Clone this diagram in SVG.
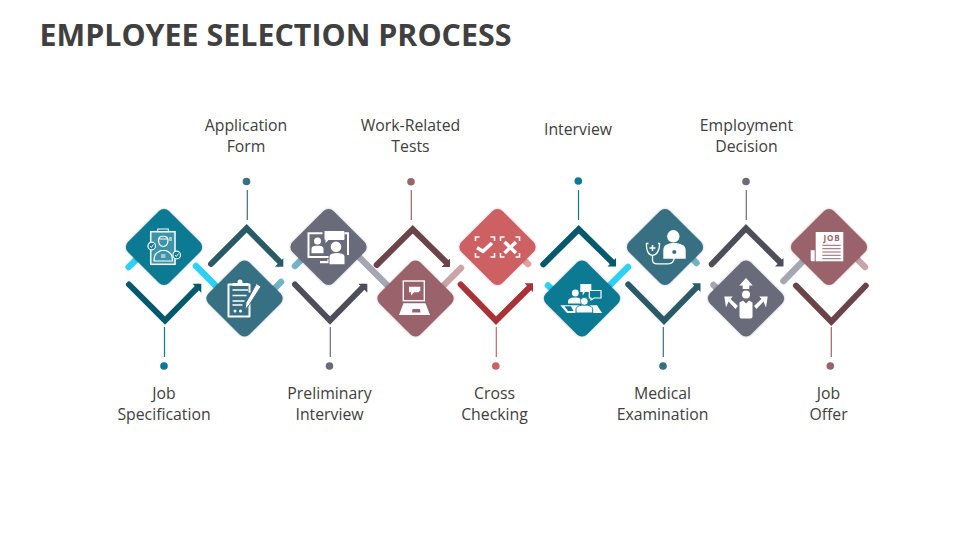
<svg xmlns="http://www.w3.org/2000/svg" width="960" height="540" viewBox="0 0 960 540">
<defs>
<filter id="sh" x="-20%" y="-20%" width="140%" height="140%"><feDropShadow dx="0" dy="0" stdDeviation="1.200" flood-color="#000" flood-opacity="0.3"/></filter>
<rect id="dia" x="-29" y="-29" width="58" height="58" rx="7" transform="rotate(45)"/>
</defs>
<style>
text{font-family:"Open Sans","Liberation Sans",sans-serif;font-size:15.800px;fill:#404040;text-anchor:middle}
.title{font-size:30.400px;font-weight:700;text-anchor:start}
.ch{fill:none;stroke-width:6;stroke-linecap:round;stroke-linejoin:miter}
.bar{fill:none;stroke-width:6.500;stroke-linecap:round}
.ln{stroke-width:1.200;fill:none}
.ic{fill:#fff;stroke:none}
.ol{fill:none;stroke:#fff;stroke-width:1.200}
.ol2{fill:none;stroke:#fff;stroke-width:2}
</style>
<rect width="960" height="540" fill="#fff"/>
<text class="title" x="39.500" y="46">EMPLOYEE SELECTION PROCESS</text>
<g id="connectors">
<g class="bar">
<path d="M128.700 267L142 254" stroke="#2dd0f7"/>
<path d="M196 266L222 292" stroke="#2dd0f7"/>
<path d="M281 282L268 295" stroke="#74b3c7"/>
<path d="M295 266L308 253" stroke="#74b3c7"/>
<path d="M355 253L395 293" stroke="#a5a7b2"/>
<path d="M461 268L440 289" stroke="#c9a5ab"/>
<path d="M528 264L516 252" stroke="#e39ea0"/>
<path d="M548 285.500L562 299" stroke="#2dd0f7"/>
<path d="M628 267L606 289" stroke="#2dd0f7"/>
<path d="M696.500 263L684 250" stroke="#74b3c7"/>
<path d="M713.500 285L727 298" stroke="#a5a7b2"/>
<path d="M783.500 281L810 254" stroke="#a5a7b2"/>
<path d="M865 267L850 252" stroke="#c9a5ab"/>
</g>
<g class="ch">
<path d="M129 284.500L165 320.500L198 287" stroke="#04596c"/>
<path d="M211 264L246.700 228.300L280 262" stroke="#2a5a68"/>
<path d="M295 284.500L330 320.500L363 287" stroke="#4e4e5a"/>
<path d="M376.700 265L412.700 229.300L447 263" stroke="#6b4449"/>
<path d="M460.700 284.500L496 320.700L530 287" stroke="#a83236"/>
<path d="M543.300 264.300L578.700 229.300L613 263" stroke="#04596c"/>
<path d="M628.300 284.500L664 320.700L697 287" stroke="#2a5a68"/>
<path d="M711.700 264.300L746 228.300L780 262" stroke="#4e4e5a"/>
<path d="M796 285.700L831.300 321.700L865.700 285.700" stroke="#6b4449"/>
</g>
<polygon points="201.300,283.700 192.500,283.700 201.300,292.700" fill="#04596c"/>
<polygon points="283.300,266.700 274.800,266.700 283.300,258.200" fill="#2a5a68"/>
<polygon points="367.300,283.700 358.500,283.700 367.300,292.700" fill="#4e4e5a"/>
<polygon points="450,267 441.500,267 450,258.500" fill="#6b4449"/>
<polygon points="533,283.300 524.500,283.300 533,292" fill="#a83236"/>
<polygon points="616,266.500 607.500,266.500 616,258" fill="#04596c"/>
<polygon points="700.500,283.300 692,283.300 700.500,292" fill="#2a5a68"/>
<polygon points="783.500,266.500 775,266.500 783.500,258" fill="#4e4e5a"/>
<g class="ln">
<path d="M164.500 327V357" stroke="#087a94"/>
<path d="M247.300 190V220" stroke="#386f83"/>
<path d="M330.300 327V357" stroke="#696b7a"/>
<path d="M411.300 190V220" stroke="#9a646c"/>
<path d="M496.300 327V357" stroke="#cd6063"/>
<path d="M578.500 190V220" stroke="#087a94"/>
<path d="M663.300 327V357" stroke="#386f83"/>
<path d="M746.300 190V220" stroke="#696b7a"/>
<path d="M831.300 327V357" stroke="#9a646c"/>
</g>
<circle cx="164" cy="366" r="3.800" fill="#087a94"/>
<circle cx="246.500" cy="181.500" r="3.800" fill="#386f83"/>
<circle cx="329.500" cy="366" r="3.800" fill="#696b7a"/>
<circle cx="411" cy="181.800" r="3.800" fill="#9a646c"/>
<circle cx="495.800" cy="366" r="3.800" fill="#cd6063"/>
<circle cx="578.300" cy="181" r="3.800" fill="#087a94"/>
<circle cx="663" cy="366" r="3.800" fill="#386f83"/>
<circle cx="746" cy="181.500" r="3.800" fill="#696b7a"/>
<circle cx="830.300" cy="366" r="3.800" fill="#9a646c"/>
</g>
<g id="node-job-specification" transform="translate(164 247)">
<use href="#dia" fill="#087a94" filter="url(#sh)"/>
<rect x="-13.300" y="-15.300" width="24.300" height="32.600" fill="#fff" fill-opacity=".2" stroke="#fff" stroke-width="1.500"/>
<rect x="-6.300" y="-18" width="10.600" height="2.700" fill="none" stroke="#fff" stroke-width="1"/>
<path class="ol" d="M-5.500-7C-5.500-12 4-12 4-7C4-2.500 2-.5-.7-.5C-3.500-.5-5.500-2.500-5.500-7ZM-5.500-8H4M-10 14C-10 6.500-7 5.500-3 3.500H2C6 5.500 8.500 7 8.500 14Z"/>
<path class="ol" d="M-3 8H1.500M-3 10H1.500M5-9H8M5-7H8"/>
<circle cx="-12.300" cy="-1" r="3.800" fill="#087a94" stroke="#fff" stroke-width="1.200"/>
<circle cx="12.700" cy="8" r="3.800" fill="#087a94" stroke="#fff" stroke-width="1.200"/>
<path d="M-14-1L-12.700.5L-10.500-2.500M11 8L12.300 9.500L14.500 6.500" fill="none" stroke="#fff" stroke-width="1"/>
</g>
<g id="node-application-form" transform="translate(244.500 298.500)">
<use href="#dia" fill="#386f83" filter="url(#sh)"/>
<path d="M5 2V18H-16V-14H5V-6" fill="none" stroke="#fff" stroke-width="2" stroke-linejoin="round"/>
<path class="ic" d="M-12-15.500H4V-12.500H-12Z"/><circle cx="-4.500" cy="-16.500" r="2.500" class="ic"/>
<path d="M-12-8.500H3.500M-12-3H2M-12 2.500H0M-12 6.500H-2" stroke="#fff" stroke-width="1.600"/>
<circle cx="-9.500" cy="12.500" r="1.500" class="ic"/><circle cx="-4" cy="12.500" r="1.500" class="ic"/>
<path class="ic" stroke="#386f83" d="M12-15L16.500-12L5 6L.5 11.500L1.500 4Z" style="stroke:#386f83;stroke-width:1"/>
</g>
<g id="node-preliminary-interview" transform="translate(328.500 247)">
<use href="#dia" fill="#696b7a" filter="url(#sh)"/>
<path class="ol2" d="M-6-13.700H-20V10H0M16-13.700H19.500V8"/>
<path class="ic" d="M-4-16H15C16-16 16-15 16-14V-8C16-7 15-7 14-7H0L-3-4V-7C-4-7-4-8-4-9Z"/>
<circle cx="-11" cy="-6" r="3.500" class="ic"/>
<path class="ic" d="M-17 6.300V2C-17-1-14-1.300-11-1.300C-8-1.300-5-1-5 2V6.300Z"/>
<circle cx="7.500" cy="-.3" r="5.300" class="ic"/>
<path class="ic" d="M1 17.300V10C1 7 4 6 8.500 6C13 6 16 7 16 10V17.300Z"/>
<path class="ic" d="M-8.500 14H0V16.300H-8.500ZM-1 12H0V14H-1Z"/>
</g>
<g id="node-work-related-tests" transform="translate(415.500 298.500)">
<use href="#dia" fill="#9a646c" filter="url(#sh)"/>
<rect x="-12.200" y="-17.500" width="21" height="19.700" fill="none" stroke="#fff" stroke-width="1.400"/>
<path class="ic" d="M-6.500-11.800H4.800V-8L3-6.200H-1.500L-4.500-3V-6.200H-6.500Z"/>
<path class="ic" fill-rule="evenodd" d="M-12 4.800H10L14.500 16.500H-16.500ZM-3 10.500L-3.500 14H5L4.500 10.500Z"/>
</g>
<g id="node-cross-checking" transform="translate(497.500 247)">
<use href="#dia" fill="#cd6063" filter="url(#sh)"/>
<g fill="none" stroke="#fff" stroke-width="1.600">
<path d="M-22-6V-10H-18M-7-10H-3V-6M-3 6V10H-7M-18 10H-22V6"/>
<path d="M3-6V-10H7M18-10H22V-6M22 6V10H18M7 10H3V6"/>
</g>
<path d="M-20.500 .7L-14.500 4.300L-5.500-4" fill="none" stroke="#fff" stroke-width="3.500"/>
<path d="M7-5L18.500 6M18.500-5L7 6" fill="none" stroke="#fff" stroke-width="3.500"/>
</g>
<g id="node-interview" transform="translate(582 298.500)">
<use href="#dia" fill="#087a94" filter="url(#sh)"/>
<circle cx="-6.700" cy="-5.500" r="3.400" class="ic"/>
<path class="ic" d="M-14 5V3C-14-.5-10-1-6.500-1C-3-1-1-.5-1 3V5Z"/>
<path class="ic" d="M-1.700-14.500H9.300V-6.500H3L.7-3V-6.500H-1.700Z"/>
<path class="ol" d="M7.300-8H19V-.5H12L9 1.500V-.5H7.300Z" style="fill:#087a94"/>
<path class="ic" d="M-21.700 6.800H15L20 14.500H-15Z"/>
<path d="M-17.500 7.800H-11L-8.500 12.500H-14Z" fill="#087a94"/>
<path class="ic" d="M-6 14.500V11C-6 8 -2 6.500 2.300 6.500C7 6.500 10.700 8 10.700 11V14.500Z" style="stroke:#087a94;stroke-width:1"/>
<circle cx="2.300" cy="2.800" r="3.900" class="ic" style="stroke:#087a94;stroke-width:.8"/>
</g>
<g id="node-medical-examination" transform="translate(665 247)">
<use href="#dia" fill="#386f83" filter="url(#sh)"/>
<circle cx="8.300" cy="-10.700" r="6.200" class="ic"/>
<path class="ic" d="M-1.700 11.700V3C-1.700-2 3-4 9-4C15-4 20.700-2 20.700 3V11.700Z"/>
<path fill="none" stroke="#fff" stroke-width="1.300" d="M-7-3.500H-5.500C-5 3-8.500 8.300-12.500 8.300C-16.500 8.300-19 3-18.500-3.500H-16.500M-12.500 8.300V13C-12.500 16-11 16.800-8 16.800H3C7 16.800 9.300 15 9.300 9"/>
<circle cx="9.300" cy="5" r="2.900" fill="#386f83" stroke="#fff" stroke-width="1.600"/>
<path d="M-15.500 1H-9.500M-12.500-2V4" stroke="#fff" stroke-width="1.500"/>
</g>
<g id="node-employment-decision" transform="translate(746 298.500)">
<use href="#dia" fill="#696b7a" filter="url(#sh)"/>
<path class="ic" d="M0-20.500L6.700-13H3.300V-9.500H-3.300V-13H-6.700Z"/>
<circle cx="0" cy="-4" r="4" class="ic"/>
<path class="ic" d="M-6.500 4L-3 2L0 5L3 2L6.500 4V18C6.500 19.500 5.500 20 4 20H-4C-5.500 20-6.500 19.500-6.500 18Z"/>
<path class="ic" d="M-21.700-2H-13.300L-15.500 0.500L-8 7.500L-10.500 10.500L-17.500 3L-20 9Z"/>
<path class="ic" d="M21.700-2H13.300L15.500 0.500L8 7.500L10.500 10.500L17.500 3L20 9Z"/>
</g>
<g id="node-job-offer" transform="translate(829 247)">
<use href="#dia" fill="#9a646c" filter="url(#sh)"/>
<path class="ic" d="M-13.300-15H14.300V14.300H-13.300Z"/>
<path class="ic" d="M-18.300 3.300H-14.300V14.300H-17C-18 14.300-18.300 13.500-18.300 12.500Z"/>
<text x="3" y="-6" style="font-size:8px;font-weight:700;fill:#9a646c;letter-spacing:.8px">JOB</text>
<path d="M-6.700-1.700H11.700M-6.700 1.700H11.700M-6.700 5H11.700M-6.700 8.300H11.700M-6.700 11.700H11.700" stroke="#9a646c" stroke-width="1"/>
</g>
<g id="labels">
<text x="246" y="131">Application</text><text x="246" y="152">Form</text>
<text x="410.500" y="131">Work-Related</text><text x="410.500" y="152">Tests</text>
<text x="578" y="135">Interview</text>
<text x="746.500" y="131">Employment</text><text x="746.500" y="152">Decision</text>
<text x="164" y="399">Job</text><text x="164" y="420">Specification</text>
<text x="329.500" y="399">Preliminary</text><text x="329.500" y="420">Interview</text>
<text x="494.500" y="399">Cross</text><text x="494.500" y="420">Checking</text>
<text x="662.500" y="399">Medical</text><text x="662.500" y="420">Examination</text>
<text x="828.500" y="399">Job</text><text x="828.500" y="420">Offer</text>
</g>
</svg>
